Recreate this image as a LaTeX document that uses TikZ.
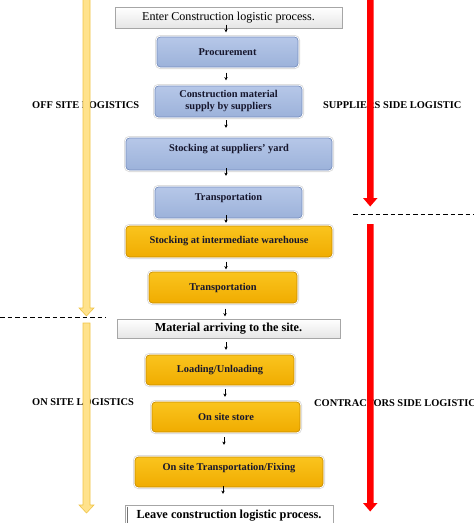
\documentclass[tikz,border=0pt]{standalone}
\usepackage{fontspec}
\setmainfont{Liberation Serif}
\usetikzlibrary{arrows.meta,calc,shadows}
\definecolor{bluetop}{RGB}{182,199,232}
\definecolor{bluebot}{RGB}{156,178,218}
\definecolor{blueedge}{RGB}{118,142,190}
\definecolor{orgtop}{RGB}{250,196,30}
\definecolor{orgbot}{RGB}{240,172,0}
\definecolor{orgedge}{RGB}{200,140,0}
\definecolor{boxtxt}{RGB}{22,22,45}
\definecolor{paleyel}{RGB}{255,226,140}
\definecolor{yeledge}{RGB}{240,196,70}
\definecolor{arrred}{RGB}{255,0,0}
\begin{document}
\begin{tikzpicture}[x=1pt,y=-1pt,
  glow/.style={preaction={draw=black!14,line width=4pt},preaction={draw=white,line width=2.4pt}},
  procbox/.style={glow,rounded corners=3.5pt,line width=0.7pt,inner sep=1pt,align=center,
     text=boxtxt,font=\bfseries\fontsize{10.4}{12}\selectfont},
  bluebox/.style={procbox,top color=bluetop,bottom color=bluebot,draw=blueedge},
  orgbox/.style={procbox,top color=orgtop,bottom color=orgbot,draw=orgedge},
  termbox/.style={draw=black!35,line width=0.6pt,top color=white,bottom color=black!10,
     drop shadow={opacity=0.25,shadow xshift=0.8pt,shadow yshift=-0.8pt},inner sep=1pt},
  sidelbl/.style={anchor=west,inner sep=0pt,font=\bfseries\fontsize{10.4}{12}\selectfont},
  flowarr/.style={line width=0.8pt,-{Stealth[length=3.2pt,width=3.4pt]}},
  sepline/.style={dashed,dash pattern=on 4.5pt off 3pt,line width=0.8pt}]
\useasboundingbox (0,0) rectangle (474,523);

% side labels
\node[sidelbl] (lOff) at (32,105) {OFF SITE LOGISTICS};
\node[sidelbl] (lSup) at (323,105) {SUPPLIERS SIDE LOGISTIC};
\node[sidelbl] (lOn) at (32,402) {ON SITE LOGISTICS};
\node[sidelbl] (lCon) at (314,403) {CONTRACTORS SIDE LOGISTIC};

% boxes
\node[termbox,minimum width=227pt,minimum height=21pt,font=\fontsize{12.1}{14}\selectfont] (n1) at (228.5,17.5) {Enter Construction logistic process.};
\node[bluebox,minimum width=141pt,minimum height=30pt] (n2) at (227.5,52) {Procurement};
\node[bluebox,minimum width=147pt,minimum height=31pt] (n3) at (228.5,101.5) {Construction material\\supply by suppliers};
\node[bluebox,minimum width=206pt,minimum height=32pt] (n4) at (229,154) {\raisebox{13pt}{Stocking at suppliers’ yard}};
\node[bluebox,minimum width=147pt,minimum height=31pt] (n5) at (228.5,202.5) {\raisebox{12pt}{Transportation}};
\node[orgbox,minimum width=206pt,minimum height=31pt] (n6) at (229,241.5) {Stocking at intermediate warehouse};
\node[orgbox,minimum width=148pt,minimum height=31pt] (n7) at (223,287.5) {Transportation};
\node[termbox,minimum width=223pt,minimum height=19pt,font=\bfseries\fontsize{12.2}{14}\selectfont] (n8) at (228.5,328.5) {Material arriving to the site.};
\node[orgbox,minimum width=148pt,minimum height=30pt] (n9) at (220,370) {Loading/Unloading};
\node[orgbox,minimum width=148pt,minimum height=30pt] (n10) at (226,417) {On site store};
\node[orgbox,minimum width=188pt,minimum height=30pt] (n11) at (229,472) {\raisebox{10pt}{On site Transportation/Fixing}};
\node[termbox,top color=white,bottom color=white,minimum width=208pt,minimum height=22pt,font=\bfseries\fontsize{12.3}{14}\selectfont] (n12) at (229,516) {Leave construction logistic process.};
\draw[black!55,line width=1pt] (n12.north west) ++(3,2) -- ++(0,20);

% flow arrows
\foreach \a/\b/\s/\xx in {n1/n2/-4/226,n2/n3/0/226,n3/n4/-3.5/226,n4/n5/-6.5/226,n5/n6/-3/226,
   n6/n7/1/226,n7/n8/1.5/225,n8/n9/-0.5/226,n9/n10/-0.5/225,n10/n11/-3.5/224,n11/n12/-6/223}{
  \coordinate (m) at ($(\a.south)!0.5!(\b.north)$);
  \coordinate (ax) at (\xx,0);
  \draw[flowarr] ($(m -| ax)+(0,\s-3.8)$) -- ($(m -| ax)+(0,\s+3.8)$);
}

% separators
\coordinate (s1a) at (353,214); \coordinate (s1b) at (474,214);
\coordinate (s2a) at (0,317); \coordinate (s2b) at (106,317);
\draw[sepline] (s1a) -- (s1b);
\draw[sepline] (s2a) -- (s2b);

% yellow arrows (off site / on site)
\filldraw[fill=paleyel,draw=yeledge,line width=0.6pt]
  (83,-2) -- (90,-2) -- (90,308) -- (94,308) -- (86.5,316) -- (79,308) -- (83,308) -- cycle;
\filldraw[fill=paleyel,draw=yeledge,line width=0.6pt]
  (83,323) -- (90,323) -- (90,505) -- (94,505) -- (86.5,513) -- (79,505) -- (83,505) -- cycle;

% red arrows (suppliers / contractors)
\fill[arrred] (367,-2) -- (373.5,-2) -- (373.5,198) -- (377.5,198) -- (370.2,206.5) -- (363,198) -- (367,198) -- cycle;
\fill[arrred] (367,224) -- (373.5,224) -- (373.5,503) -- (377.5,503) -- (370.2,511.5) -- (363,503) -- (367,503) -- cycle;
\end{tikzpicture}
\end{document}
